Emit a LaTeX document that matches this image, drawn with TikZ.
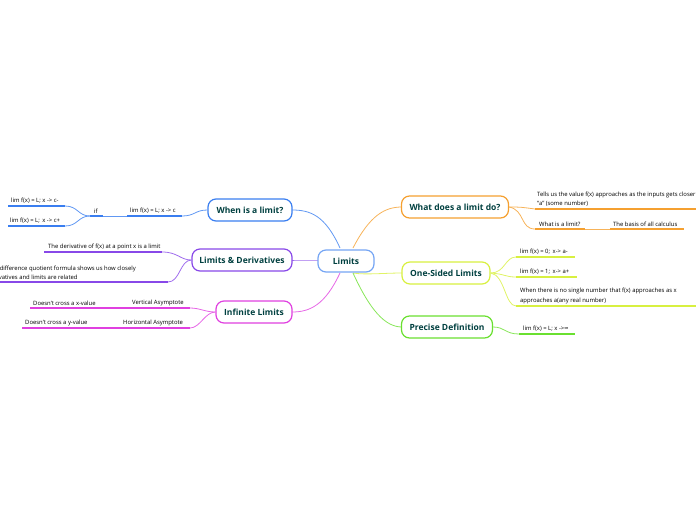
\documentclass[tikz,border=0pt]{standalone}
\usepackage{fontspec}
\setmainfont{Open Sans}
\begin{document}
\begin{tikzpicture}[x=1pt,y=-1pt,
 mainbox/.style={draw=#1,line width=1.2pt,rounded corners=8pt,fill=white,font=\fontsize{8.5}{10}\selectfont\bfseries,text=teal!50!black,inner xsep=6pt,minimum height=22pt},
 leaf/.style={font=\fontsize{5.9}{9.5}\selectfont,anchor=south west,inner sep=1pt,align=left},
 ul/.style={draw=#1,line width=1.2pt},
 con/.style={draw=#1!80,line width=0.8pt}]
\useasboundingbox (0,0) rectangle (696,520);
\clip (0,0) rectangle (696,520);
\definecolor{cor}{HTML}{F5A030}\definecolor{cyl}{HTML}{D8F040}\definecolor{cgr}{HTML}{6AE030}
\definecolor{cbl}{HTML}{3A7EF0}\definecolor{cpu}{HTML}{8848E8}\definecolor{cma}{HTML}{E040E0}
\coordinate (c) at (346,261);
\coordinate (aw) at (402,207); \coordinate (ae) at (509,207);
\coordinate (bw) at (402,273); \coordinate (be) at (490,273);
\coordinate (dw) at (402,327); \coordinate (de) at (493,327);
\coordinate (ee) at (292,210); \coordinate (ew) at (208,210);
\coordinate (fe) at (292,260); \coordinate (fw) at (192,260);
\coordinate (ge) at (292,312); \coordinate (gw) at (216,312);
% main connectors
\draw[con=cor] (353,248) .. controls (370,215) and (385,207) .. (aw);
\draw[con=cyl] (353,273) .. controls (365,275) and (385,273) .. (bw);
\draw[con=cgr] (353,273) .. controls (370,310) and (385,327) .. (dw);
\draw[con=cbl] (340,248) .. controls (325,215) and (310,210) .. (ee);
\draw[con=cpu] (320,260) .. controls (305,260) .. (fe);
\draw[con=cma] (340,273) .. controls (325,305) and (310,312) .. (ge);
\node[mainbox=cbl!70,minimum width=56pt] (cn) at (346,261) {Limits};
\node[mainbox=cor,minimum width=107pt] (a) at (455,207) {What does a limit do?};
\node[mainbox=cyl,minimum width=88pt] (b) at (446,273) {One-Sided Limits};
\node[mainbox=cgr,minimum width=91pt] (d) at (447,327) {Precise Definition};
\node[mainbox=cbl,minimum width=84pt] (e) at (250,210) {When is a limit?};
\node[mainbox=cpu,minimum width=100pt] (f) at (242,260) {Limits \& Derivatives};
\node[mainbox=cma,minimum width=76pt] (g) at (254,312) {Infinite Limits};
% orange leaves
\coordinate (o1) at (535,209); \coordinate (o2) at (535,229);
\draw[con=cor] (a.east) .. controls (520,207) .. (o1);
\draw[con=cor] (a.east) .. controls (525,210) and (520,229) .. (o2);
\draw[ul=cor] (o1) -- (696,209); \draw[ul=cor] (o2) -- (585,229); \draw[ul=cor] (610,229) -- (684,229);
\draw[con=cor] (585,229) -- (610,229);
\node[leaf] (ot1) at (536,208) {Tells us the value f(x) approaches as the inputs gets closer to\\``a'' (some number)};
\node[leaf] (ot2) at (538,228) {What is a limit?};
\node[leaf] (ot3) at (612,228) {The basis of all calculus};
% yellow leaves
\coordinate (y1) at (516,257); \coordinate (y2) at (516,277); \coordinate (y3) at (516,306);
\draw[con=cyl] (b.east) .. controls (505,273) and (505,257) .. (y1);
\draw[con=cyl] (b.east) .. controls (505,274) and (505,277) .. (y2);
\draw[con=cyl] (b.east) .. controls (505,275) and (505,306) .. (y3);
\draw[ul=cyl] (y1) -- (575,257); \draw[ul=cyl] (y2) -- (577,277); \draw[ul=cyl] (y3) -- (696,306);
\node[leaf] (yt1) at (519,256) {lim f(x) = 0;\, x-> a-};
\node[leaf] (yt2) at (519,276) {lim f(x) = 1;\, x-> a+};
\node[leaf] (yt3) at (519,305) {When there is no single number that f(x) approaches as x\\approaches a(any real number)};
% green
\coordinate (g1) at (519,334);
\draw[con=cgr] (d.east) .. controls (505,327) and (505,334) .. (g1);
\draw[ul=cgr] (g1) -- (575,334);
\node[leaf] (gt1) at (522,333) {lim f(x) = L; x ->∞};
% blue
\coordinate (b1) at (182,216); \coordinate (b2) at (103,216); \coordinate (b3) at (65,206); \coordinate (b4) at (65,226);
\draw[con=cbl] (e.west) .. controls (195,210) and (195,216) .. (b1);
\draw[ul=cbl] (b1) -- (127,216);
\draw[con=cbl] (127,216) -- (b2);
\draw[ul=cbl] (b2) -- (90,216);
\draw[con=cbl] (90,216) .. controls (78,216) and (78,206) .. (b3);
\draw[con=cbl] (90,216) .. controls (78,216) and (78,226) .. (b4);
\draw[ul=cbl] (b3) -- (8,206); \draw[ul=cbl] (b4) -- (8,226);
\node[leaf] (bt1) at (129,215) {lim f(x) = L; x -> c};
\node[leaf] (bt2) at (93,215) {if};
\node[leaf] (bt3) at (10,205) {lim f(x) = L; x -> c-};
\node[leaf] (bt4) at (9,225) {lim f(x) = L;\, x -> c+};
% purple
\coordinate (p1) at (162,252); \coordinate (p2) at (168,282);
\draw[con=cpu] (f.west) .. controls (180,260) and (178,252) .. (p1);
\draw[con=cpu] (f.west) .. controls (180,260) and (180,282) .. (p2);
\draw[ul=cpu] (p1) -- (44,252); \draw[ul=cpu] (p2) -- (0,282);
\node[leaf] (pt1) at (47,251) {The derivative of f(x) at a point x is a limit};
\node[leaf,anchor=south east] (pt2) at (137,281) {The difference quotient formula shows us how closely\\derivatives and limits are related};
% magenta
\coordinate (m1) at (190,308); \coordinate (m2) at (190,328);
\draw[con=cma] (g.west) .. controls (205,312) and (200,308) .. (m1);
\draw[con=cma] (g.west) .. controls (205,312) and (200,328) .. (m2);
\draw[ul=cma] (m1) -- (103,308); \draw[ul=cma] (m2) -- (120,328);
\draw[ul=cma] (103,308) -- (30,308); \draw[ul=cma] (120,328) -- (22,328);
\node[leaf] (mt1) at (131,307) {Vertical Asymptote};
\node[leaf] (mt2) at (122,327) {Horizontal Asymptote};
\node[leaf] (mt3) at (32,307) {Doesn't cross a x-value};
\node[leaf] (mt4) at (24,327) {Doesn't cross a y-value};
\end{tikzpicture}
\end{document}
